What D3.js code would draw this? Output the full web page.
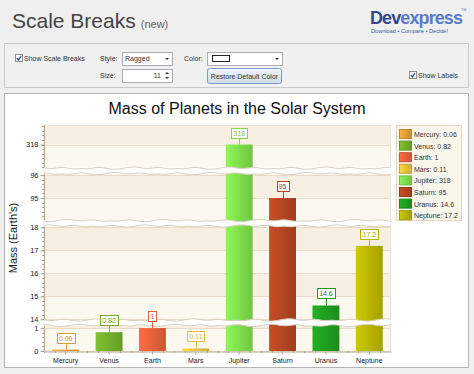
<html>
<meta charset="UTF-8">
<head>
<style>
  body { margin: 0; background: #eeeeee; }
  svg text { font-family: "Liberation Sans", Arial, sans-serif; }
</style>
</head>
<script src="https://d3js.org/d3.v7.min.js"></script>
<body>
<div id="vis"></div>
<script>
// chart data
var planets = ["Mercury", "Venus", "Earth", "Mars", "Jupiter", "Saturn", "Uranus", "Neptune"];
var masses = [0.06, 0.82, 1, 0.11, 318, 95, 14.6, 17.2];
var planetColors = ["#dc9e34", "#70ad2a", "#e2603a", "#e6c03c", "#7ddb4b", "#b24422", "#1f9b1f", "#b6b200"];
var massLabels = ["0.06", "0.82", "1", "0.11", "318", "95", "14.6", "17.2"];

// axis segments between the scale breaks (bottom to top) and their ticks
var segDomains = [[0, 1.1], [14, 18.05], [94.05, 96.05], [317, 318.85]];
var segTicks = [[0, 1], [14, 15, 16, 17, 18], [95, 96], [318]];

var width = 474, height = 374;
var svg = d3.select("#vis").append("svg")
  .attr("width", width)
  .attr("height", height);

var defs = svg.append("defs");

// page background
svg.append("rect").attr("width", width).attr("height", height).attr("fill", "#efefef");

// ---- header ----
var head = svg.append("text").attr("x", 12).attr("y", 28).attr("fill", "#444");
head.append("tspan").attr("font-size", 21).text("Scale Breaks");
head.append("tspan").attr("font-size", 11).attr("dx", 5).attr("fill", "#666").text("(new)");

// logo
var logo = svg.append("text").attr("x", 370).attr("y", 24).attr("font-size", 18)
  .attr("font-weight", "bold").attr("letter-spacing", -0.9);
logo.append("tspan").attr("fill", "#34488a").text("Dev");
logo.append("tspan").attr("fill", "#5a7cc4").text("express");
svg.append("text").attr("x", 461).attr("y", 11).attr("font-size", 3.5).attr("fill", "#5a7cc4").text("TM");
svg.append("text").attr("x", 371).attr("y", 33).attr("font-size", 5.6).attr("fill", "#3b5aa0")
  .text("Download \u2022 Compare \u2022 Decide!");

// ---- control panel ----
svg.append("rect").attr("x", 4.5).attr("y", 43.5).attr("width", 464).attr("height", 44)
  .attr("fill", "#f0f0f0").attr("stroke", "#c9c9c9");

function checkbox(x, y) {
  svg.append("rect").attr("x", x + 0.5).attr("y", y + 0.5).attr("width", 7).attr("height", 7)
    .attr("fill", "#fff").attr("stroke", "#8e8f8f");
  svg.append("path").attr("d", `M${x + 2},${y + 4} L${x + 3.5},${y + 6} L${x + 6},${y + 2}`)
    .attr("fill", "none").attr("stroke", "#2a4f9a").attr("stroke-width", 1.3);
}
function label(x, y, t) {
  return svg.append("text").attr("x", x).attr("y", y).attr("font-size", 7).attr("fill", "#333").text(t);
}
function box(x, y, w, h) {
  svg.append("rect").attr("x", x + 0.5).attr("y", y + 0.5).attr("width", w).attr("height", h)
    .attr("fill", "#fff").attr("stroke", "#abadb3");
}

checkbox(15, 54);
label(24, 61, "Show Scale Breaks");
label(100, 61, "Style:");
box(122, 52, 50, 13);
label(125, 61, "Ragged");
svg.append("path").attr("d", "M165,58 L169,58 L167,60 Z").attr("fill", "#333");
label(184, 61, "Color:");
box(207, 52, 75, 13);
svg.append("rect").attr("x", 212.5).attr("y", 55.5).attr("width", 17).attr("height", 6)
  .attr("fill", "#fff").attr("stroke", "#222");
svg.append("path").attr("d", "M275,58 L279,58 L277,60 Z").attr("fill", "#333");

label(100, 78, "Size:");
box(122, 69, 50, 13);
label(161, 78, "11").attr("text-anchor", "end");
svg.append("path").attr("d", "M165,74 L169,74 L167,72 Z M165,77 L169,77 L167,79 Z").attr("fill", "#333");

var btnGrad = defs.append("linearGradient").attr("id", "btn").attr("x1", 0).attr("x2", 0).attr("y1", 0).attr("y2", 1);
btnGrad.append("stop").attr("offset", "0%").attr("stop-color", "#eef4fa");
btnGrad.append("stop").attr("offset", "100%").attr("stop-color", "#cfdce9");
svg.append("rect").attr("x", 207.5).attr("y", 68.5).attr("width", 74).attr("height", 15).attr("rx", 2)
  .attr("fill", "url(#btn)").attr("stroke", "#7d9bbf");
label(244.5, 79, "Restore Default Color").attr("text-anchor", "middle");

checkbox(409, 71);
label(418, 78, "Show Labels");

// ---- chart panel ----
svg.append("rect").attr("x", 4.5).attr("y", 93.5).attr("width", 464).attr("height", 274)
  .attr("fill", "#fff").attr("stroke", "#b4b4b4");

svg.append("text").attr("x", 237).attr("y", 114).attr("text-anchor", "middle")
  .attr("font-size", 16).attr("fill", "#111").text("Mass of Planets in the Solar System");

var plotLeft = 44, plotRight = 391, plotTop = 125, plotBottom = 351, gap = 6.5;

// segment scales
var totalUnits = d3.sum(segDomains, d => d[1] - d[0]);
var unit = (plotBottom - plotTop - gap * (segDomains.length - 1)) / totalUnits;
var segScales = [];
var yCursor = plotBottom;
segDomains.forEach((d, i) => {
  var h = (d[1] - d[0]) * unit;
  segScales.push(d3.scaleLinear().domain(d).range([yCursor, yCursor - h]));
  yCursor = yCursor - h - gap;
});

function yPos(v) {
  for (var i = 0; i < segDomains.length; i++) {
    if (v >= segDomains[i][0] && v <= segDomains[i][1]) return segScales[i](v);
  }
  return plotTop;
}

var x = d3.scaleBand().domain(planets).range([plotLeft, plotRight]);
var barW = x.bandwidth() * 0.62;

var plot = svg.append("g");

// interlaced strips
segScales.forEach((s, i) => {
  var edges = [segDomains[i][0]].concat(segTicks[i].filter(t => t > segDomains[i][0]), [segDomains[i][1]]);
  for (var k = 0; k < edges.length - 1; k++) {
    plot.append("rect")
      .attr("x", plotLeft).attr("width", plotRight - plotLeft)
      .attr("y", s(edges[k + 1])).attr("height", s(edges[k]) - s(edges[k + 1]))
      .attr("fill", k % 2 == 0 ? "#fcf8f0" : "#f7efe1");
  }
  segTicks[i].forEach(t => {
    plot.append("line").attr("x1", plotLeft).attr("x2", plotRight)
      .attr("y1", Math.round(s(t)) + 0.5).attr("y2", Math.round(s(t)) + 0.5)
      .attr("stroke", "#eadcc6");
  });
});
plot.append("rect").attr("x", plotLeft).attr("y", plotTop + 0.5).attr("width", plotRight - plotLeft - 0.5)
  .attr("height", plotBottom - plotTop).attr("fill", "none").attr("stroke", "#efe5d4");

// bar gradients
planetColors.forEach((c, i) => {
  var g = defs.append("linearGradient").attr("id", "bar" + i);
  g.append("stop").attr("offset", "0%").attr("stop-color", d3.color(c).brighter(0.35));
  g.append("stop").attr("offset", "100%").attr("stop-color", d3.color(c).darker(0.3));
});

var data = planets.map((p, i) => ({ name: p, value: masses[i], color: planetColors[i], label: massLabels[i], i: i }));

plot.selectAll(".bar").data(data).enter().append("rect")
  .attr("class", "bar")
  .attr("x", d => x(d.name) + (x.bandwidth() - barW) / 2)
  .attr("width", barW)
  .attr("y", d => yPos(d.value))
  .attr("height", d => plotBottom - yPos(d.value))
  .attr("fill", d => "url(#bar" + d.i + ")");

// ragged breaks
var wave = [0, 1.2, 0.4, -0.8, -0.2, 1.0, 1.6, 0.6, -0.6, -1.2, -0.3, 0.8, 0.2, -0.9, 0.3, 1.3];
function raggedLine(y, phase) {
  var pts = [];
  for (var k = 0, px = plotLeft; px <= plotRight + 6; px += 6, k++) {
    pts.push([Math.min(px, plotRight), y + wave[(k + phase) % wave.length]]);
  }
  return pts;
}
var breakLine = d3.line().curve(d3.curveBasis);
for (var b = 0; b < segScales.length - 1; b++) {
  var yLow = segScales[b].range()[1];
  var yHigh = segScales[b + 1].range()[0];
  var upperEdge = raggedLine(yHigh + 0.5, b * 5);
  var lowerEdge = raggedLine(yLow - 0.5, b * 5 + 3);
  plot.append("path")
    .attr("d", breakLine(upperEdge) + "L" + breakLine(lowerEdge.slice().reverse()).slice(1) + "Z")
    .attr("fill", "#fff");
  plot.append("path").attr("d", breakLine(upperEdge)).attr("fill", "none").attr("stroke", "#d9cfbf");
  plot.append("path").attr("d", breakLine(lowerEdge)).attr("fill", "none").attr("stroke", "#d9cfbf");
}

// y axis
var axisColor = "#b3a68f";
segScales.forEach((s, i) => {
  var r = s.range();
  plot.append("line").attr("x1", plotLeft + 0.5).attr("x2", plotLeft + 0.5)
    .attr("y1", r[0]).attr("y2", r[1]).attr("stroke", axisColor);
  var minor = d3.range(Math.ceil(segDomains[i][0] * 5), Math.floor(segDomains[i][1] * 5) + 1).map(v => v / 5);
  minor.forEach(v => {
    plot.append("line").attr("x1", plotLeft - 2).attr("x2", plotLeft)
      .attr("y1", Math.round(s(v)) + 0.5).attr("y2", Math.round(s(v)) + 0.5).attr("stroke", axisColor);
  });
  var ax = d3.axisLeft(s).tickValues(segTicks[i]).tickFormat(d3.format("d"))
    .tickSize(4).tickSizeOuter(0).tickPadding(2);
  var g = plot.append("g").attr("transform", `translate(${plotLeft + 0.5},0)`).call(ax);
  g.select(".domain").remove();
  g.selectAll("line").attr("stroke", axisColor);
  g.selectAll("text").attr("font-size", 7.5).attr("fill", "#222").attr("font-family", null);
});

// x axis
var xAxis = d3.axisBottom(x).tickSize(3).tickSizeOuter(0).tickPadding(4);
var gx = plot.append("g").attr("transform", `translate(0,${plotBottom + 0.5})`).call(xAxis);
gx.select(".domain").attr("stroke", axisColor);
gx.selectAll("line").attr("stroke", axisColor);
gx.selectAll("text").attr("font-size", 7).attr("fill", "#222").attr("font-family", null);
planets.forEach(p => {
  [0, 0.25, 0.75].forEach(f => {
    var px = Math.round(x(p) + x.bandwidth() * f) + 0.5;
    plot.append("line").attr("x1", px).attr("x2", px).attr("y1", plotBottom).attr("y2", plotBottom + 2)
      .attr("stroke", axisColor);
  });
});

svg.append("text").attr("transform", `translate(17,238) rotate(-90)`)
  .attr("text-anchor", "middle").attr("font-size", 11).attr("fill", "#222").text("Mass (Earth's)");

// value labels
data.forEach(d => {
  var cx = x(d.name) + x.bandwidth() / 2;
  var yTop = yPos(d.value);
  var g = svg.append("g");
  g.append("line").attr("x1", Math.round(cx) + 0.5).attr("x2", Math.round(cx) + 0.5)
    .attr("y1", yTop - 7).attr("y2", yTop).attr("stroke", d.color);
  var bg = g.append("rect");
  var t = g.append("text").attr("x", cx).attr("y", yTop - 9).attr("text-anchor", "middle")
    .attr("font-size", 7).attr("fill", d3.color(d.color).darker(0.2)).text(d.label);
  var w = Math.round(t.node().getComputedTextLength() + 4);
  bg.attr("x", Math.round(cx - w / 2) + 0.5).attr("y", Math.round(yTop - 17) + 0.5)
    .attr("width", w).attr("height", 10).attr("fill", "#fff").attr("stroke", d.color);
});

// legend
var lg = svg.append("g").attr("transform", "translate(396,125)");
lg.append("rect").attr("x", 0.5).attr("y", 0.5).attr("width", 65).attr("height", 95)
  .attr("fill", "#fbf6ec").attr("stroke", "#e3d6c0");
data.forEach((d, i) => {
  var yy = 4 + i * 11.6;
  lg.append("rect").attr("x", 3.5).attr("y", yy + 0.5).attr("width", 12).attr("height", 9)
    .attr("fill", "url(#bar" + i + ")").attr("stroke", d3.color(d.color).darker(0.4));
  lg.append("text").attr("x", 18).attr("y", yy + 8).attr("font-size", 7).attr("fill", "#333")
    .text(d.name + ": " + d.label);
});
</script>
</body>
</html>
